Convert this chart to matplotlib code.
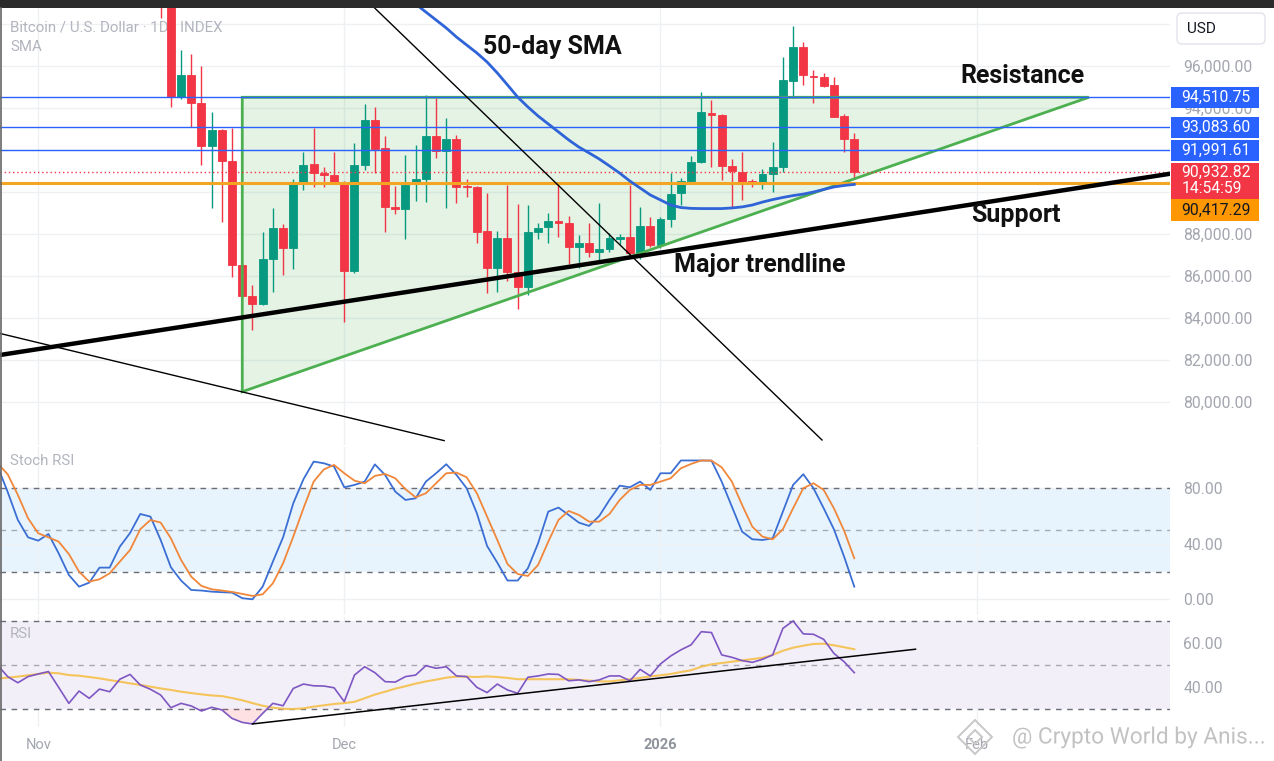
import numpy as np
import pandas as pd
import matplotlib
matplotlib.use("Agg")
import matplotlib.pyplot as plt
import matplotlib.dates as mdates
import matplotlib.patheffects as pe
from matplotlib.patches import Polygon, Rectangle, FancyBboxPatch
from matplotlib.lines import Line2D
from matplotlib.transforms import blended_transform_factory

plt.rcParams['font.family'] = ['Roboto', 'DejaVu Sans']

# daily candles from 13 Nov 2025
candle_start = "2025-11-13"
opens = [101600, 99700, 94540, 95570, 94250, 92190, 92950, 91480, 86520, 85060,
         84670, 86800, 88270, 87320, 90490, 91330, 90920, 90810, 90410, 86250,
         91290, 93430, 92080, 89300, 89200, 90410, 90620, 92670, 91970, 92510,
         90290, 90220, 88140, 86400, 87820, 86210, 85460, 88110, 88350, 88630,
         88540, 87400, 87590, 87160, 87300, 87780, 87870, 87110, 88380, 87480,
         88710, 89940, 90520, 91440, 93780, 93670, 91250, 90970, 90510, 90410,
         90860, 91180, 95300, 96920, 95520, 95460, 95100, 93620, 92520]
highs = [104200, 99900, 96760, 96570, 96010, 93800, 93000, 93030, 86600, 85570,
         88110, 89220, 88480, 90620, 91890, 93030, 91200, 91920, 90500, 92320,
         94190, 94060, 92670, 90290, 91760, 92240, 94620, 94460, 93510, 92710,
         90600, 90290, 89970, 88160, 90330, 89410, 89380, 88540, 89010, 90440,
         88860, 87950, 88510, 89490, 88030, 88000, 90330, 89300, 88820, 88800,
         90890, 90650, 91730, 94780, 94380, 93700, 91560, 91920, 90600, 91080,
         92400, 96410, 97900, 97160, 95810, 95650, 95460, 93700, 92800]
lows = [98270, 94060, 94450, 93110, 91290, 89220, 88590, 85970, 85000, 83430,
        84600, 85250, 86050, 86320, 90100, 90220, 90220, 90400, 83820, 86150,
        91050, 90920, 88110, 88950, 87750, 89590, 89540, 91600, 89220, 89490,
        89780, 87590, 85180, 85250, 85780, 84410, 85100, 87750, 87590, 87870,
        86570, 86370, 86890, 86680, 87160, 87520, 86950, 86800, 87370, 87350,
        88320, 89380, 90400, 91400, 91200, 90570, 89220, 89620, 90250, 90130,
        90010, 90970, 94460, 95100, 94220, 95000, 93550, 91920, 90650]
closes = [99700, 94540, 95570, 94250, 92190, 92950, 91480, 86520, 85060, 84670,
          86800, 88270, 87320, 90490, 91290, 90920, 90820, 90410, 86250, 91290,
          93430, 92050, 89300, 89200, 90330, 90620, 92670, 91970, 92510, 90220,
          90220, 88110, 86400, 87800, 86210, 85460, 88080, 88300, 88630, 88540,
          87400, 87590, 87160, 87300, 87800, 87840, 87110, 88380, 87480, 88710,
          89900, 90520, 91440, 93820, 93650, 91250, 91000, 90490, 90410, 90860,
          91180, 95330, 96920, 95570, 95460, 95060, 93590, 92520, 90932.82]

# 50-day SMA from 7 Dec 2025 (earlier values sit above the visible range)
sma_start = "2025-12-07"
sma50 = [99380, 98950, 98570, 98190, 97810, 97380, 97000, 96620, 96190, 95670,
         95100, 94520, 94050, 93620, 93240, 92860, 92480, 92140, 91860, 91570,
         91240, 90900, 90520, 90190, 89860, 89620, 89380, 89260, 89220, 89210,
         89210, 89210, 89240, 89290, 89380, 89520, 89640, 89740, 89830, 89900,
         90000, 90120, 90240, 90310, 90360]

# oscillators from 28 Oct 2025
osc_start = "2025-10-28"
stoch_k = [96.0, 77.4, 57.2, 44.7, 42.3, 47.1, 33.2, 17.6, 9.2, 12.1,
           22.9, 22.9, 38.0, 47.8, 61.5, 59.6, 42.8, 23.2, 13.6, 6.8,
           6.4, 5.6, 5.2, 4.9, 0.9, 0.1, 9.2, 27.2, 44.7, 69.2,
           86.5, 99.2, 98.0, 95.6, 80.7, 82.4, 84.8, 97.2, 89.6, 77.6,
           71.6, 72.8, 84.8, 90.8, 97.3, 89.6, 80.0, 62.0, 38.5, 26.5,
           13.6, 13.6, 22.4, 40.4, 63.2, 66.1, 60.8, 55.3, 52.9, 60.1,
           71.6, 81.9, 80.7, 84.8, 78.8, 90.8, 90.8, 100, 100, 100,
           99.9, 84.8, 66.8, 48.8, 43.3, 42.8, 44.0, 63.2, 82.4, 90.1,
           80.0, 65.6, 50.5, 30.8, 9.2]
stoch_d = [98.0, 90.1, 75.2, 58.4, 47.6, 44.7, 41.6, 32.7, 20.0, 12.8,
           14.5, 18.8, 27.2, 35.6, 50.5, 57.2, 55.3, 44.0, 28.4, 16.4,
           9.7, 7.3, 6.4, 5.4, 4.0, 2.5, 3.7, 11.6, 26.0, 45.2,
           65.6, 84.8, 93.6, 96.8, 90.8, 85.5, 83.6, 88.9, 90.3, 87.2,
           79.3, 73.5, 76.4, 83.6, 90.8, 91.3, 87.9, 76.4, 59.6, 42.8,
           25.5, 18.3, 16.9, 24.8, 41.6, 57.2, 63.7, 60.8, 56.0, 56.0,
           61.5, 71.6, 78.8, 82.4, 82.4, 84.8, 87.2, 94.4, 97.5, 100,
           99.9, 95.1, 84.8, 68.0, 52.4, 45.2, 43.3, 50.5, 65.6, 80.0,
           83.6, 78.8, 65.6, 49.5, 29.6]
rsi = [50.0, 44.7, 41.9, 44.7, 45.9, 47.0, 39.8, 32.5, 38.1, 34.8,
       39.0, 37.8, 43.5, 45.7, 40.9, 38.9, 36.3, 30.5, 32.5, 31.3,
       29.0, 30.7, 29.5, 25.6, 23.8, 23.1, 27.9, 32.5, 31.4, 39.3,
       41.3, 40.5, 40.4, 39.6, 33.3, 45.4, 49.2, 46.5, 42.4, 42.2,
       44.7, 45.4, 49.7, 48.5, 49.2, 45.0, 44.7, 39.8, 37.4, 41.3,
       38.6, 37.1, 44.4, 45.0, 45.9, 45.7, 42.8, 43.2, 42.4, 43.2,
       45.0, 45.0, 42.8, 48.0, 45.0, 50.5, 54.1, 56.9, 59.2, 65.2,
       64.8, 54.6, 53.5, 52.0, 51.2, 52.6, 54.6, 66.7, 70.1, 64.2,
       64.0, 61.7, 55.3, 51.5, 46.5]
rsi_ma = [43.8, 44.2, 44.7, 45.3, 45.9, 46.5, 46.2, 45.4, 45.1, 44.5,
          43.9, 43.1, 42.4, 41.6, 40.9, 40.1, 39.3, 38.6, 37.8, 37.2,
          36.6, 36.1, 35.8, 34.9, 33.9, 32.6, 31.4, 30.5, 30.0, 29.9,
          30.2, 31.0, 31.6, 32.2, 32.6, 33.2, 34.8, 36.5, 37.8, 39.2,
          40.3, 41.5, 42.5, 43.3, 44.2, 44.7, 44.7, 44.5, 44.8, 44.5,
          44.1, 43.5, 43.5, 43.5, 43.5, 43.5, 43.5, 43.2, 42.9, 42.5,
          42.5, 43.0, 43.5, 44.1, 44.8, 45.3, 45.9, 46.8, 47.6, 49.2,
          50.3, 50.9, 51.5, 52.1, 52.7, 53.3, 54.6, 56.5, 57.9, 58.8,
          59.6, 59.7, 59.0, 58.1, 57.2]

# horizontal levels
blue_levels = [94510.75, 93083.60, 91991.61]
last_price = 90932.82
countdown = "14:54:59"
support_level = 90417.29

# drawn lines as (date, value) anchors
triangle = [("2025-11-21", 94510.75), ("2025-11-21", 80490), ("2026-02-12", 94510.75)]
major_trend = [("2025-11-01", 82520), ("2026-01-20", 88540)]
down_line_1 = [("2025-12-01", 100160), ("2026-01-16 20:00", 78190)]
down_line_2 = [("2025-10-23", 83880), ("2025-12-10 19:00", 78160)]
rsi_trend = [("2025-11-22", 23.1), ("2026-01-26", 57.2)]

price_ticks = list(range(80000, 96001, 2000))
hidden_ticks = [90000, 92000]  # covered by the price tags
month_ticks = ["2025-11-01", "2025-12-01", "2026-01-01", "2026-02-01"]
month_labels = ["Nov", "Dec", "2026", "Feb"]

GREEN = '#089981'
RED = '#f23645'
BLUE = '#2962ff'
ORANGE = '#ff9800'
GREY = '#a3a6af'
GRID = '#eef0f4'
LABEL = '#b2b5be'


def num(d):
    return mdates.date2num(pd.Timestamp(d))


def pts(anchors):
    return [num(d) for d, _ in anchors], [v for _, v in anchors]


W, H = 1274, 761
fig = plt.figure(figsize=(W / 100, H / 100), dpi=100, facecolor='white')


def box(x0, y0, x1, y1):
    return [x0 / W, 1 - y1 / H, (x1 - x0) / W, (y1 - y0) / H]


def fxy(px, py):
    return px / W, 1 - py / H


ax = fig.add_axes(box(0, 8, 1170, 445))
ax_s = fig.add_axes(box(0, 447, 1170, 615), sharex=ax)
ax_r = fig.add_axes(box(0, 617, 1170, 727), sharex=ax)

jan1 = num("2026-01-01")
ax.set_xlim(jan1 - 64.75, jan1 + 49.95)
ax.set_ylim(77952, 98762)
ax_s.set_ylim(-11.2, 109.7)
ax_r.set_ylim(21.7, 71.9)

for a in (ax, ax_s, ax_r):
    for s in a.spines.values():
        s.set_visible(False)
    a.set_xticks([num(m) for m in month_ticks])
    a.grid(axis='x', color=GRID, lw=1, zorder=0)
    a.yaxis.tick_right()
    a.tick_params(axis='both', length=0, labelsize=11.3, labelcolor=GREY, pad=9.5)
    a.set_axisbelow(True)

ax.tick_params(labelbottom=False)
ax_s.tick_params(labelbottom=False)
ax_r.set_xticklabels(month_labels)
ax_r.tick_params(axis='x', labelsize=10.5, pad=8)
for t, lab in zip(ax_r.get_xticklabels(), month_labels):
    if lab == "2026":
        t.set_fontweight('bold')
        t.set_color('#8f939c')

# ---- main price panel ----
ax.set_yticks(price_ticks)
ax.set_yticklabels(["" if v in hidden_ticks else f"{v:,.2f}" for v in price_ticks])
ax.grid(axis='y', color=GRID, lw=1, zorder=0)
ax.axhline(98000, color=GRID, lw=1, zorder=0)

ax.text(10 / 1170, (445 - 27) / 437, "Bitcoin / U.S. Dollar · 1D · INDEX", transform=ax.transAxes,
        fontsize=10.8, color=LABEL, va='center', zorder=2)
ax.text(10 / 1170, (445 - 47) / 437, "SMA", transform=ax.transAxes,
        fontsize=10.8, color=LABEL, va='center', zorder=2)

tx, ty = pts(triangle)
ax.add_patch(Polygon(list(zip(tx, ty)), closed=True, fc='#4caf50', alpha=0.15, ec='none', zorder=1))

cx = mdates.date2num(pd.date_range(candle_start, periods=len(opens), freq="D"))
o, h, l, c = (np.array(v, dtype=float) for v in (opens, highs, lows, closes))
cols = np.where(c >= o, GREEN, RED)
ax.vlines(cx, l, h, colors=cols, lw=1, zorder=3)
ax.bar(cx, np.abs(c - o), bottom=np.minimum(o, c), width=0.78, color=cols,
       edgecolor=cols, lw=0.6, zorder=4)

ax.add_patch(Polygon(list(zip(tx, ty)), closed=True, fill=False, ec='#4caf50', lw=2, zorder=5))

for lv in blue_levels:
    ax.axhline(lv, color=BLUE, lw=1, zorder=5)
ax.axhline(last_price, color=RED, lw=1, ls=(0, (1, 2)), zorder=5)
ax.axhline(support_level, color='#f5a524', lw=2.2, zorder=5)

sx = mdates.date2num(pd.date_range(sma_start, periods=len(sma50), freq="D"))
ax.plot(sx, sma50, color='#2f63d8', lw=2, zorder=6)

(x1, x2), (y1, y2) = pts(major_trend)
ax.axline((x1, y1), (x2, y2), color='black', lw=3.2, zorder=7)
for seg in (down_line_1, down_line_2):
    sxs, sys_ = pts(seg)
    ax.plot(sxs, sys_, color='black', lw=1, zorder=7)

# price scale tags
ax_p = fig.add_axes(box(1170, 8, 1274, 445), sharey=ax)
ax_p.set_xlim(0, 1)
ax_p.axis('off')
ppx = (98762 - 77952) / 437.0
tr = blended_transform_factory(ax_p.transAxes, ax.transData)


def tag(price, lines, fc, tc, shift_px=0, h_px=21, text_shift_px=0):
    yc = price - shift_px * ppx
    ax_p.add_patch(Rectangle((0.01, yc - h_px / 2 * ppx), 0.845, h_px * ppx, transform=tr,
                             fc=fc, ec='none', clip_on=False, zorder=5))
    top = price - text_shift_px * ppx
    for i, s in enumerate(lines):
        ax_p.text(0.108, top - i * 16 * ppx, s, transform=tr, color=tc, fontsize=11.3,
                  va='center', ha='left', zorder=6, clip_on=False)


for lv in blue_levels:
    tag(lv, [f"{lv:,.2f}"], BLUE, 'white')
tag(last_price, [f"{last_price:,.2f}", countdown], RED, 'white', shift_px=9, h_px=37)
tag(support_level, [f"{support_level:,.2f}"], ORANGE, '#131722', shift_px=27, h_px=22,
    text_shift_px=27)

fig.add_artist(FancyBboxPatch((1177 / W, 1 - 44 / H), 88 / W, 31 / H, transform=fig.transFigure,
                              boxstyle='round,pad=0,rounding_size=0.004', mutation_aspect=W / H,
                              fc='white', ec='#e0e3eb', lw=1))
fig.text(*fxy(1187, 29), "USD", fontsize=11, color='#131722', va='center')

for label, px, py in [("50-day SMA", 552, 47), ("Resistance", 1022, 76),
                      ("Support", 1016, 215), ("Major trendline", 760, 265)]:
    fig.text(*fxy(px, py), label, fontsize=18, fontweight='bold', color='#111111',
             ha='center', va='center')

# ---- stochastic RSI ----
ox = mdates.date2num(pd.date_range(osc_start, periods=len(rsi), freq="D"))
ax_s.axhspan(20, 80, color='#2196f3', alpha=0.1, lw=0, zorder=0)
ax_s.set_yticks([0, 40, 80])
ax_s.set_yticklabels(["0.00", "40.00", "80.00"])
ax_s.grid(axis='y', color=GRID, lw=1, zorder=0)
for v, al in ((80, 1), (50, 0.55), (20, 1)):
    ax_s.axhline(v, color='#6a6d78', lw=1, dashes=(4, 4), alpha=al, zorder=1)
ax_s.plot(ox, stoch_k, color='#3b6fd4', lw=1.3, zorder=3)
ax_s.plot(ox, stoch_d, color='#f0873a', lw=1.3, zorder=3)
fig.text(*fxy(10, 461), "Stoch RSI", fontsize=10.8, color=LABEL, va='center')

# ---- RSI ----
r = np.array(rsi)
ax_r.axhspan(30, 70, color='#7e57c2', alpha=0.09, lw=0, zorder=0)
ax_r.set_yticks([40, 60])
ax_r.set_yticklabels(["40.00", "60.00"])
ax_r.grid(axis='y', color=GRID, lw=1, zorder=0)
for v, al in ((70, 1), (50, 0.55), (30, 1)):
    ax_r.axhline(v, color='#6a6d78', lw=1, dashes=(4, 4), alpha=al, zorder=1)
ax_r.fill_between(ox, r, 30, where=r < 30, interpolate=True, color='#f23645', alpha=0.15, lw=0, zorder=1)
ax_r.plot(ox, rsi_ma, color='#f5c04a', lw=1.5, alpha=0.9, zorder=2)
ax_r.plot(ox, rsi, color='#7e57c2', lw=1.2, zorder=3)
(rx1, rx2), (ry1, ry2) = pts(rsi_trend)
ax_r.plot([rx1, rx2], [ry1, ry2], color='black', lw=1.1, zorder=4)
fig.text(*fxy(10, 634), "RSI", fontsize=10.8, color=LABEL, va='center')

# screenshot frame and watermark
fig.add_artist(Rectangle((0, 1 - 8 / H), 1, 8 / H, transform=fig.transFigure, fc='#2b2b2b', ec='none'))
fig.add_artist(Line2D([0.0006, 0.0006], [0, 1 - 8 / H], transform=fig.transFigure, color='#666666', lw=1.2))
for ms, mx, my in ((17, 975, 737), (7, 975, 737)):
    fig.add_artist(Line2D([mx / W], [1 - my / H], transform=fig.transFigure, marker='D', ms=ms,
                          mfc='none', mec='#c8c8c8', mew=1.4))
fig.text(*fxy(1012, 737), "@ Crypto World by Anis...", fontsize=16.3, color='#c2c2c2',
         va='center', ha='left', path_effects=[pe.withStroke(linewidth=2.5, foreground='white')])

fig.savefig("out.png", dpi=100, facecolor='white')
